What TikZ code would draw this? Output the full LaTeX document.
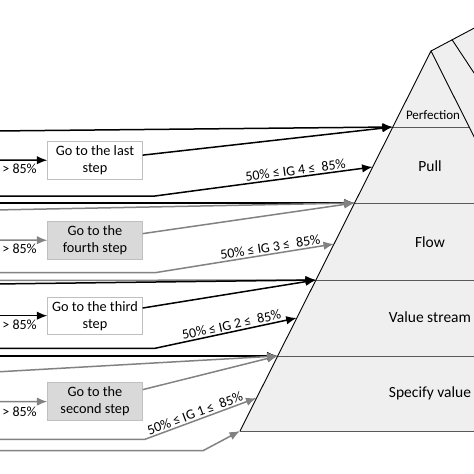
\documentclass[tikz,border=0pt]{standalone}
\usepackage{fontspec}
\setmainfont{Carlito}
\usepackage{tikz}
\usetikzlibrary{arrows.meta}

\definecolor{arrowgray}{HTML}{828282}
\definecolor{boxfill}{HTML}{D9D9D9}
\definecolor{boxline}{HTML}{BFBFBF}
\definecolor{pyrfill}{HTML}{EFEFEF}
\definecolor{tierline}{HTML}{595959}

\begin{document}
\begin{tikzpicture}[->,>={Latex[length=10.5pt,width=8.5pt]}
	,x=1pt,y=-1pt
	,line width=1.5pt]
  \tikzstyle{step box}=[draw=boxline,line width=0.8pt,minimum width=94.6pt
	,minimum height=37.4pt,inner sep=1pt,align=center
	,font=\fontsize{14.3}{17}\selectfont]
  \tikzstyle{gray box}=[step box,fill=boxfill]
  \tikzstyle{white box}=[step box,fill=white]
  \tikzstyle{ig label}=[sloped,above,inner sep=1.5pt,font=\fontsize{14}{16}\selectfont]
  \tikzstyle{gt label}=[anchor=east,inner sep=0pt,font=\fontsize{14}{16}\selectfont]
  \tikzstyle{tier}=[font=\fontsize{15.5}{18}\selectfont]
  \tikzstyle{black path}=[black]
  \tikzstyle{gray path}=[arrowgray]

  \clip (0,0) rectangle (474,474);

  % pyramid corners on the left edge
  \coordinate (apex) at (431,51);
  \coordinate (c5) at (392.8,127);
  \coordinate (c4) at (354.6,203);
  \coordinate (c3) at (316,280);
  \coordinate (c2) at (277.6,356);
  \coordinate (c1) at (240,431);
  % middle of each tier on the left edge
  \coordinate (m4) at (372.6,167);
  \coordinate (m3) at (334,244);
  \coordinate (m2) at (296.7,318);
  \coordinate (m1) at (256.5,398);
  \coordinate (back) at (480,25);
  \coordinate (ridge) at (452,39.6);
  \coordinate (rbase) at (622,431);

  \fill[pyrfill] (c1) -- (apex) -- (back) -- (480,431) -- cycle;
  \begin{scope}[-,line width=0.9pt]
  \draw[tierline] (c5) -- (469,127);
  \draw[tierline] (c4) -- (480,203);
  \draw[tierline] (c3) -- (480,280);
  \draw[tierline] (c2) -- (480,356);
  \draw[tierline] (c1) -- (480,431);
  \draw (c1) -- (apex) -- (rbase);
  \draw (apex) -- (back);
  \draw (ridge) -- (480,82);
  \end{scope}

  \node[tier,font=\fontsize{13}{15}\selectfont] (perf) at (433,115) {Perfection};
  \node[tier] (pull) at (430,166) {Pull};
  \node[tier] (flow) at (430,242) {Flow};
  \node[tier] (vstream) at (430,317) {Value stream};
  \node[tier] (spec) at (430,393) {Specify value};

  % boxes
  \node[white box] (box4) at (95,160.5) {Go to the last\\step};
  \node[gray box] (box3) at (95,240.5) {Go to the\\fourth step};
  \node[white box] (box2) at (95,315.7) {Go to the third\\step};
  \node[gray box] (box1) at (95,401.5) {Go to the\\second step};

  \node[gt label] (gt4) at (37.5,169) {> 85\%};
  \node[gt label] (gt3) at (37.5,249) {> 85\%};
  \node[gt label] (gt2) at (37.5,325) {> 85\%};
  \node[gt label] (gt1) at (37.5,411.5) {> 85\%};

  % free ends on the left
  \coordinate (a4) at (-5,131);   \coordinate (in4) at (-5,160);
  \coordinate (g4) at (-5,196);   \coordinate (d4) at (-5,203);
  \coordinate (a3) at (-5,210);   \coordinate (in3) at (-5,240);
  \coordinate (g3) at (-5,272.7); \coordinate (d3) at (-5,280.5);
  \coordinate (a2) at (-5,284);   \coordinate (in2) at (-5,315.7);
  \coordinate (g2) at (-5,348.3); \coordinate (d2) at (-5,356);
  \coordinate (a1) at (-5,372);   \coordinate (in1) at (-5,401.7);
  \coordinate (g1) at (-5,439.3); \coordinate (d1) at (-5,450.7);

  % level 4
  \path[black path]
	(a4) edge (c5)
	(in4) edge (box4)
	(box4) edge (c5)
	(d4) edge (c4);
  \draw[black path] (g4) -- (155,196) -- node[ig label,pos=0.65] {50\% ≤ IG 4 ≤\ \ 85\%} (m4);

  % level 3
  \path[gray path]
	(a3) edge (c4)
	(in3) edge (box3)
	(box3) edge (c4)
	(d3) edge (c3);
  \draw[gray path] (g3) -- (155,272.7) -- node[ig label,pos=0.65,black] {50\% ≤ IG 3 ≤\ \ 85\%} (m3);

  % level 2
  \path[black path]
	(a2) edge (c3)
	(in2) edge (box2)
	(box2) edge (c3)
	(d2) edge (c2);
  \draw[black path] (g2) -- (155,348.3) -- node[ig label,pos=0.55] {50\% ≤ IG 2 ≤\ \ 85\%} (m2);

  % level 1
  \path[gray path]
	(a1) edge (c2)
	(in1) edge (box1)
	(box1) edge (c2);
  \draw[gray path] (g1) -- (145,439.3) -- node[ig label,pos=0.47,black] {50\% ≤ IG 1 ≤\ \ 85\%} (m1);
  \draw[gray path] (d1) -- (203,450.7) -- (c1);

\end{tikzpicture}
\end{document}
